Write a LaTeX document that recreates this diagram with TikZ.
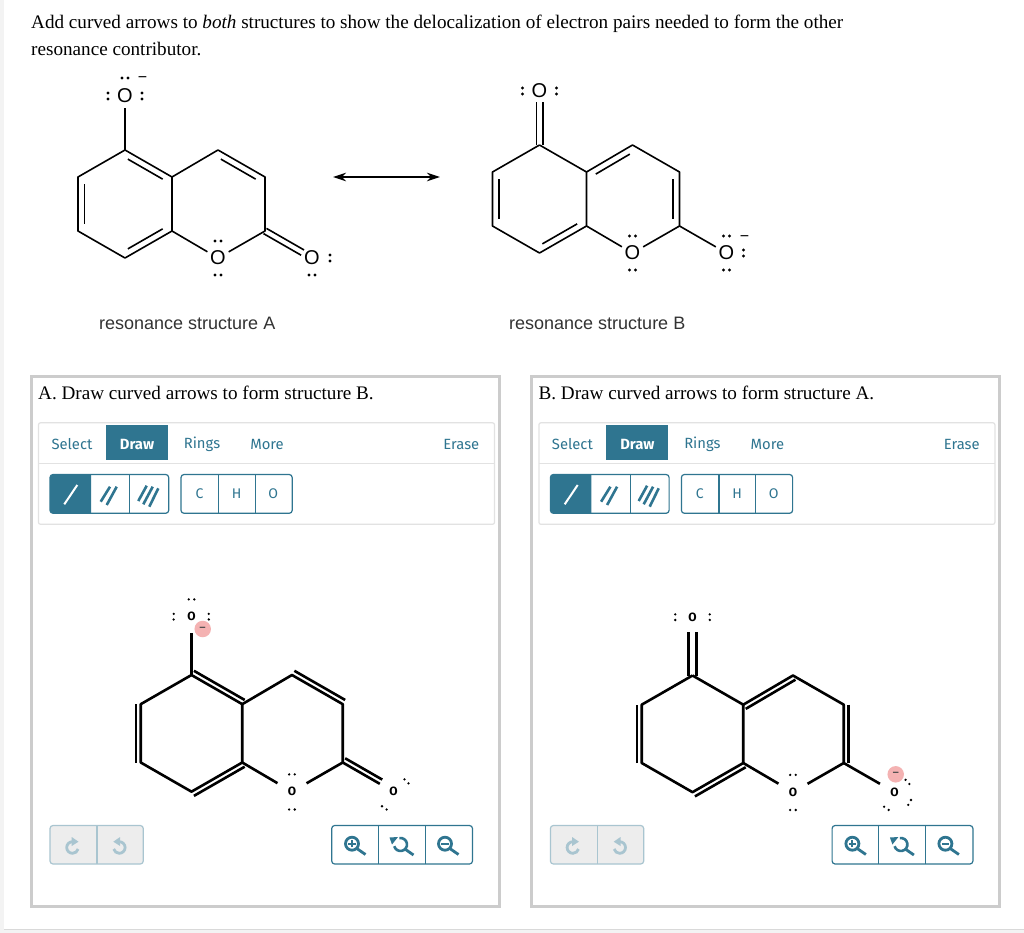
\documentclass[tikz,border=0pt]{standalone}
\usepackage{fontspec}
\setmainfont{Liberation Serif}
\setsansfont{Fira Sans}
\newfontfamily\labelfont{Liberation Sans}
\usetikzlibrary{calc}
\usetikzlibrary{arrows.meta}

\definecolor{mteal}{HTML}{2F7590}
\definecolor{lteal}{HTML}{A9C5D0}
\definecolor{panelgray}{HTML}{CCCCCC}
\definecolor{toolgray}{HTML}{E2E2E2}
\definecolor{chargered}{HTML}{F4B2B2}
\definecolor{pagegray}{HTML}{F3F3F3}

\tikzset{
  question/.style={anchor=base west,inner sep=0,font=\fontsize{19.15}{22}\selectfont},
  caption/.style={anchor=base west,inner sep=0,font=\labelfont\fontsize{18}{20}\selectfont,text=black!80},
  tool/.style={font=\sffamily\fontsize{14.8}{18}\selectfont,text=mteal,inner sep=0},
  atomkey/.style={tool,font=\sffamily\fontsize{14}{14}\selectfont},
  topmol/.style={line width=1.6pt,line join=round,
    atom/.style={circle,inner sep=0,minimum size=23pt,font=\labelfont\fontsize{20}{20}\selectfont}},
  lowmol/.style={line width=2.6pt,line join=round,
    atom/.style={circle,inner sep=0,minimum size=31pt,font=\sffamily\bfseries\fontsize{12}{12}\selectfont}},
}

% second line of a bond, on the left of a->b
\newcommand{\bondpair}[4]{\draw ($(#1)!#3!(#2)!#4pt!90:(#2)$) -- ($(#2)!#3!(#1)!#4pt!-90:(#1)$);}
% atom, dx, dy, angle
\newcommand{\lonepair}[4]{\fill ($(#1)+(#2,#3)+(#4:\dotd)$) circle (\dotr)
  ($(#1)+(#2,#3)+(#4+180:\dotd)$) circle (\dotr);}

\newcommand{\ringatoms}{
\coordinate (C1) at (0,0);
\coordinate (C2) at (-47,27);
\coordinate (C3) at (-47,81);
\coordinate (C4) at (0,108);
\coordinate (C5) at (47,81);
\coordinate (C6) at (47,27);
\coordinate (C7) at (93,0);
\coordinate (C8) at (140,27);
\coordinate (C9) at (140,81);
\node (O1) [atom] at (93,108) {O};
\node (O2) [atom] at (187,108) {O};
\node (O3) [atom] at (0,-54) {O};
\draw (C1) -- (C2) -- (C3) -- (C4) -- (C5) -- (C6) -- (C1);
\draw (C6) -- (C7) -- (C8) -- (C9) -- (O1) -- (C5);
}

\newcommand{\editorpanel}[3]{
\begin{scope}[name prefix=#1-,shift={(#2,0)}]
\draw [panelgray,line width=3pt] (31.5,376.5) rectangle (499,906);
\node (title) [question] at (38,399) {#3};
\draw [toolgray,line width=1.2pt,rounded corners=2pt] (38.5,422.8) rectangle (494.5,524.3);
\draw [toolgray,line width=1.2pt] (38.5,463.7) -- (494.5,463.7);
\fill [mteal] (105.5,425) rectangle (167.7,460);
\node (select) [tool] at (72,444) {Select};
\node (drawtab) [tool,text=white] at (137,444) {\textbf{Draw}};
\node (rings) [tool] at (202,444) {Rings};
\node (more) [tool] at (267,444) {More};
\node (erase) [tool] at (461.3,444) {Erase};
\fill [mteal] (91,474.5) [rounded corners=3pt] -- (50,474.5) -- (50,513.3) [sharp corners] -- (91,513.3) -- cycle;
\draw [mteal,line width=1.2pt,rounded corners=3pt] (50,474.5) rectangle (168.7,513.3);
\draw [mteal,line width=1.2pt] (129.7,474.5) -- (129.7,513.3);
\draw [white,line width=2pt] (64.3,504.3) -- (77.3,485);
\draw [mteal,line width=2.6pt] (100.7,501.7) -- (110,486.7) (106.7,505) -- (116.7,486.7);
\draw [mteal,line width=2.6pt] (138.3,501) -- (146.7,485.7) (143.3,504.3) -- (152.7,486.7) (149.3,506.7) -- (158.3,488.3);
\draw [mteal,line width=1.2pt,rounded corners=3pt] (181,474.5) rectangle (292.2,513.3);
\draw [mteal,line width=1.2pt] (218.5,474.5) -- (218.5,513.3) (255.2,474.5) -- (255.2,513.3);
\node (atomC) [atomkey] at (199.5,494) {C};
\node (atomH) [atomkey] at (236.7,494) {H};
\node (atomO) [atomkey] at (273.3,494) {O};
% undo and redo
\draw [lteal,fill=black!7,line width=1.2pt,rounded corners=3pt] (50,825.5) rectangle (143.3,864);
\draw [lteal,line width=1.2pt] (97,825.5) -- (97,864);
\begin{scope}[shift={(72.5,847.5)},x=1pt,y=1pt,lteal]
\draw [line width=2.8pt] (90:5.8) arc (90:345:5.8);
\fill (-0.8,10.5) -- (6,5.8) -- (-0.8,1.5) -- cycle;
\end{scope}
\begin{scope}[shift={(119.3,847.5)},x=1pt,y=1pt,xscale=-1,lteal]
\draw [line width=2.8pt] (90:5.8) arc (90:345:5.8);
\fill (-0.8,10.5) -- (6,5.8) -- (-0.8,1.5) -- cycle;
\end{scope}
% zoom buttons
\draw [mteal,line width=1.2pt,rounded corners=3pt] (331.7,825.5) rectangle (472.5,864);
\draw [mteal,line width=1.2pt] (378.3,825.5) -- (378.3,864) (425.3,825.5) -- (425.3,864);
\begin{scope}[shift={(352,843.7)},x=1pt,y=1pt,mteal]
\draw [line width=2.8pt] (0,0) circle (6.5);
\draw [line width=2.8pt] (4.8,-4.8) -- (13.5,-10.8);
\draw [line width=2pt] (-3.6,0) -- (3.6,0) (0,-3.6) -- (0,3.6);
\end{scope}
\begin{scope}[shift={(400.5,844.5)},x=1pt,y=1pt,mteal]
\draw [line width=2.6pt] (100:6.5) arc (100:-165:6.5);
\draw [line width=2.8pt] (4.8,-4.8) -- (13,-10.5);
\fill (-11,7) -- (-2.5,7.5) -- (-8.5,0) -- cycle;
\end{scope}
\begin{scope}[shift={(445,843.7)},x=1pt,y=1pt,mteal]
\draw [line width=2.8pt] (0,0) circle (6.5);
\draw [line width=2.8pt] (4.8,-4.8) -- (13.5,-10.8);
\draw [line width=2pt] (-3.6,0) -- (3.6,0);
\end{scope}
\end{scope}
}

\begin{document}
\begin{tikzpicture}[x=1pt,y=-1pt]
\useasboundingbox (0,0) rectangle (1024,933);
\fill [pagegray] (0,0) rectangle (1024,933);
\fill [white] (4,0) rectangle (1024,928.5);
\draw [black!15,line width=1pt] (4,929) -- (1024,929);

\node (line1) [question] at (31,29) {Add curved arrows to \textit{both} structures to show the delocalization of electron pairs needed to form the other};
\node (line2) [question] at (31,56) {resonance contributor.};

% resonance structure A
\def\dotr{1.7}\def\dotd{3}
\begin{scope}[name prefix=ta-,shift={(125,150)},topmol]
\ringatoms
\draw (C1) -- (O3);
\bondpair{C6}{C1}{0.13}{6.5}
\bondpair{C2}{C3}{0.13}{6.5}
\bondpair{C4}{C5}{0.13}{6.5}
\bondpair{C8}{C7}{0.13}{6.5}
\coordinate (K2) at ($(O2)!0.2!(C9)$);
\bondpair{C9}{K2}{0}{3}
\bondpair{C9}{K2}{0}{-3}
\lonepair{O3}{0}{-18}{0}
\lonepair{O3}{-17}{0}{90}
\lonepair{O3}{17}{0}{90}
\lonepair{O1}{0}{-17}{0}
\lonepair{O1}{0}{17}{0}
\lonepair{O2}{0}{17}{0}
\lonepair{O2}{18}{0}{90}
\node (chargeA) [inner sep=0,font=\labelfont\fontsize{16}{16}\selectfont] at (17.5,-70) {−};
\end{scope}

\coordinate (resL) at (333,177);
\coordinate (resR) at (440,177);
\draw [line width=1.1pt,{Stealth[length=13pt,width=8.5pt]}-{Stealth[length=13pt,width=8.5pt]}] (resL) -- (resR);

% resonance structure B
\begin{scope}[name prefix=tb-,shift={(539.5,145)},topmol]
\ringatoms
\bondpair{C2}{C3}{0.13}{6.5}
\bondpair{C4}{C5}{0.13}{6.5}
\bondpair{C7}{C6}{0.13}{6.5}
\bondpair{C9}{C8}{0.13}{6.5}
\draw (C9) -- (O2);
\coordinate (K3) at ($(O3)!0.2!(C1)$);
\bondpair{C1}{K3}{0}{3.2}
\bondpair{C1}{K3}{0}{-3.2}
\lonepair{O3}{-17}{0}{90}
\lonepair{O3}{17}{0}{90}
\lonepair{O1}{0}{-17}{0}
\lonepair{O1}{0}{17}{0}
\lonepair{O2}{0}{-17}{0}
\lonepair{O2}{0}{17}{0}
\lonepair{O2}{17}{0}{90}
\node (chargeB) [inner sep=0,font=\labelfont\fontsize{16}{16}\selectfont] at (205,94) {−};
\end{scope}

\node (capA) [caption] at (99,329) {resonance structure A};
\node (capB) [caption] at (509,329) {resonance structure B};

\editorpanel{pa}{0}{A. Draw curved arrows to form structure B.}
\editorpanel{pb}{500.4}{B. Draw curved arrows to form structure A.}

% drawing in panel A
\def\dotr{1.2}\def\dotd{2.6}
\begin{scope}[name prefix=la-,shift={(191.5,675)},scale=1.08,lowmol]
\ringatoms
\draw (C1) -- (O3);
\bondpair{C1}{C6}{0}{4.5}
\bondpair{C3}{C2}{0}{4.5}
\bondpair{C5}{C4}{0}{4.5}
\bondpair{C7}{C8}{0}{4.5}
\coordinate (K2) at ($(O2)!0.27!(C9)$);
\draw (C9) -- (K2);
\bondpair{C9}{K2}{0}{4.5}
\lonepair{O3}{0}{-16}{0}
\lonepair{O3}{-16.5}{0}{90}
\lonepair{O3}{16}{0}{90}
\lonepair{O1}{0}{-16}{0}
\lonepair{O1}{0}{16.5}{0}
\lonepair{O2}{12}{-9.5}{45}
\lonepair{O2}{-8.5}{15}{35}
\end{scope}
\node (la-minus) [circle,fill=chargered,minimum size=16.5pt,inner sep=0,font=\labelfont\bfseries\fontsize{11}{11}\selectfont,text=black!70] at (202.7,629) {−};

% drawing in panel B
\begin{scope}[name prefix=lb-,shift={(692.5,675.5)},scale=1.08,lowmol]
\ringatoms
\bondpair{C3}{C2}{0}{4.5}
\bondpair{C5}{C4}{0}{4.5}
\bondpair{C7}{C6}{0}{4.5}
\bondpair{C8}{C9}{0}{4.5}
\draw (C9) -- (O2);
\coordinate (K3) at ($(O3)!0.26!(C1)$);
\bondpair{C1}{K3}{0}{3.5}
\bondpair{C1}{K3}{0}{-3.5}
\lonepair{O3}{-16}{0}{90}
\lonepair{O3}{16}{0}{90}
\lonepair{O1}{0}{-16}{0}
\lonepair{O1}{0}{16.5}{0}
\lonepair{O2}{12}{-9.5}{48}
\lonepair{O2}{14}{9.5}{120}
\lonepair{O2}{-7.5}{15}{35}
\end{scope}
\node (lb-minus) [circle,fill=chargered,minimum size=16.5pt,inner sep=0,font=\labelfont\bfseries\fontsize{11}{11}\selectfont,text=black!70] at (895.7,774.3) {−};
\end{tikzpicture}
\end{document}
